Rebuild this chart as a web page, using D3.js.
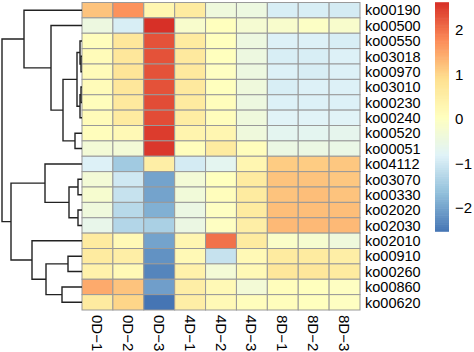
<!DOCTYPE html>
<html>
<head>
<meta charset="utf-8">
<script src="https://cdn.jsdelivr.net/npm/d3@7"></script>
<style>
  body { margin: 0; background: #ffffff; }
  svg { display: block; }
</style>
</head>
<body>
<div id="chart"></div>
<script>
const rowLabels = ["ko00190", "ko00500", "ko00550", "ko03018", "ko00970", "ko03010", "ko00230",
  "ko00240", "ko00520", "ko00051", "ko04112", "ko03070", "ko00330", "ko02020", "ko02030",
  "ko02010", "ko00910", "ko00260", "ko00860", "ko00620"];

const colLabels = ["0D-1", "0D-2", "0D-3", "4D-1", "4D-2", "4D-3", "8D-1", "8D-2", "8D-3"];

// row-scaled values, one array per row (same order as rowLabels)
const values = [
  [1.2, 1.7, 0.3, 0.6, -0.4, -0.45, -0.9, -0.9, -0.95],
  [-0.45, -0.9, 2.61, -0.15, 0.05, -0.25, -0.15, -0.05, -0.15],
  [0.1, 0.7, 2.3, 0.6, 0.05, -0.45, -0.85, -0.85, -0.9],
  [0.15, 0.7, 2.3, 0.65, 0.05, -0.45, -0.9, -0.9, -0.85],
  [0.15, 0.75, 2.3, 0.65, 0.0, -0.45, -0.85, -0.9, -0.85],
  [0.15, 0.7, 2.3, 0.65, 0.05, -0.4, -0.9, -0.85, -0.85],
  [0.1, 0.65, 2.35, 0.6, 0.1, -0.45, -0.85, -0.85, -0.85],
  [0.15, 0.6, 2.35, 0.55, 0.1, -0.4, -0.8, -0.8, -0.8],
  [0.1, 0.2, 2.5, 0.35, 0.3, -0.4, -0.7, -0.7, -0.65],
  [-0.3, -0.3, 2.55, 0.1, 0.6, 0.1, -0.5, -0.5, -0.55],
  [-0.85, -1.5, 0.5, -0.95, -0.7, 0.3, 1.1, 1.1, 1.15],
  [-0.3, -1.0, -2.0, -0.3, 0.05, 0.6, 1.2, 1.2, 1.15],
  [-0.2, -1.1, -2.0, -0.35, 0.1, 0.6, 1.2, 1.25, 1.2],
  [-0.4, -1.25, -1.85, -0.5, 0.0, 0.6, 1.25, 1.25, 1.25],
  [-0.6, -1.3, -1.4, -0.5, 0.0, 0.5, 1.3, 1.3, 1.3],
  [0.6, 0.2, -2.0, 0.3, 2.0, 0.6, -0.1, -0.2, -0.4],
  [0.6, 0.5, -2.2, 0.2, -1.1, 0.2, 0.6, 0.6, 0.5],
  [0.4, 0.2, -2.35, 0.4, -0.3, 0.2, 0.7, 0.7, 0.6],
  [1.45, 1.2, -2.05, 0.5, 0.2, -0.3, 0.1, 0.05, 0.0],
  [0.6, 1.0, -2.53, 0.5, 0.2, 0.1, 0.1, 0.05, 0.0]
];

// hclust-style merges: negative = leaf (row position), positive = earlier merge (1-based)
const treeMerge = [
  [-4, -5], [-6, -7], [-3, 1], [2, -8], [3, 4], [-12, -13], [-14, -15], [-9, -10],
  [6, 7], [-17, -18], [5, 8], [-19, -20], [-2, 11], [10, 12], [-11, 9], [-16, 14],
  [-1, 13], [15, 16], [17, 18]
];
const treeHeight = [0.1, 0.1, 0.2, 0.2, 0.5, 0.4, 0.4, 0.7, 1.3, 1.4, 1.9, 2.0, 3.1, 3.6, 3.7,
  5.0, 5.8, 7.1, 8.0];

const legendTicks = [2, 1, 0, -1, -2];
const palette = ["#4575B4", "#91BFDB", "#E0F3F8", "#FFFFBF", "#FEE090", "#FC8D59", "#D73027"];

const width = 474, height = 352;
const hm = {left: 82, right: 360, top: 2.5, bottom: 310};

const svg = d3.select("#chart").append("svg")
  .attr("width", width)
  .attr("height", height);

const x = d3.scaleBand().domain(colLabels).range([hm.left, hm.right]);
const y = d3.scaleBand().domain(rowLabels).range([hm.top, hm.bottom]);

const [vmin, vmax] = d3.extent(values.flat());
const color = d3.scaleLinear()
  .domain(palette.map((_, i) => vmin + (vmax - vmin) * i / (palette.length - 1)))
  .range(palette)
  .interpolate(d3.interpolateRgb);

// cells
const cells = [];
values.forEach((row, i) => row.forEach((v, j) => cells.push({r: rowLabels[i], c: colLabels[j], v})));

svg.append("g").selectAll("rect")
  .data(cells)
  .join("rect")
  .attr("x", d => x(d.c))
  .attr("y", d => y(d.r))
  .attr("width", x.bandwidth())
  .attr("height", y.bandwidth())
  .attr("fill", d => color(d.v))
  .attr("stroke", "#999999")
  .attr("stroke-width", 1);

// row dendrogram
const h = d3.scaleLinear().domain([0, d3.max(treeHeight)]).range([hm.left, 2]);
const nodeY = [];
const posOf = ref => ref < 0
  ? {x: h(0), y: y(rowLabels[-ref - 1]) + y.bandwidth() / 2}
  : {x: h(treeHeight[ref - 1]), y: nodeY[ref - 1]};

const links = treeMerge.map((m, k) => {
  const a = posOf(m[0]), b = posOf(m[1]);
  nodeY[k] = (a.y + b.y) / 2;
  const xm = h(treeHeight[k]);
  return `M${a.x},${a.y}H${xm}V${b.y}H${b.x}`;
});

svg.append("g").selectAll("path")
  .data(links)
  .join("path")
  .attr("d", d => d)
  .attr("fill", "none")
  .attr("stroke", "#222222")
  .attr("stroke-width", 1.4);

// row labels
svg.append("g").selectAll("text")
  .data(rowLabels)
  .join("text")
  .attr("x", hm.right + 5)
  .attr("y", d => y(d) + y.bandwidth() / 2)
  .attr("dy", "0.36em")
  .style("font-family", "'Liberation Sans', Arial, sans-serif")
  .style("font-size", "14.5px")
  .style("fill", "#000000")
  .text(d => d);

// column labels (rotated)
svg.append("g").selectAll("text")
  .data(colLabels)
  .join("text")
  .attr("transform", d => `translate(${x(d) + x.bandwidth() / 2},${hm.bottom + 5}) rotate(90)`)
  .attr("dy", "0.36em")
  .style("font-family", "'Liberation Sans', Arial, sans-serif")
  .style("font-size", "15px")
  .style("fill", "#000000")
  .text(d => d.replace("-", "\u2212"));

// legend
const lg = {x: 435, w: 14, top: 2.5, bottom: 231.5};
const ly = d3.scaleLinear().domain([vmin, vmax]).range([lg.bottom, lg.top]);
const steps = d3.range(100).map(i => vmin + (vmax - vmin) * i / 100);
const stepH = (lg.bottom - lg.top) / 100;

svg.append("g").selectAll("rect")
  .data(steps)
  .join("rect")
  .attr("x", lg.x)
  .attr("y", d => ly(d) - stepH - 0.3)
  .attr("width", lg.w)
  .attr("height", stepH + 0.6)
  .attr("fill", d => color(d + (vmax - vmin) / 200));

svg.append("g").selectAll("text")
  .data(legendTicks)
  .join("text")
  .attr("x", lg.x + lg.w + 6)
  .attr("y", d => ly(d))
  .attr("dy", "0.36em")
  .style("font-family", "'Liberation Sans', Arial, sans-serif")
  .style("font-size", "15px")
  .style("fill", "#000000")
  .text(d => d < 0 ? "\u2212" + Math.abs(d) : d);
</script>
</body>
</html>
